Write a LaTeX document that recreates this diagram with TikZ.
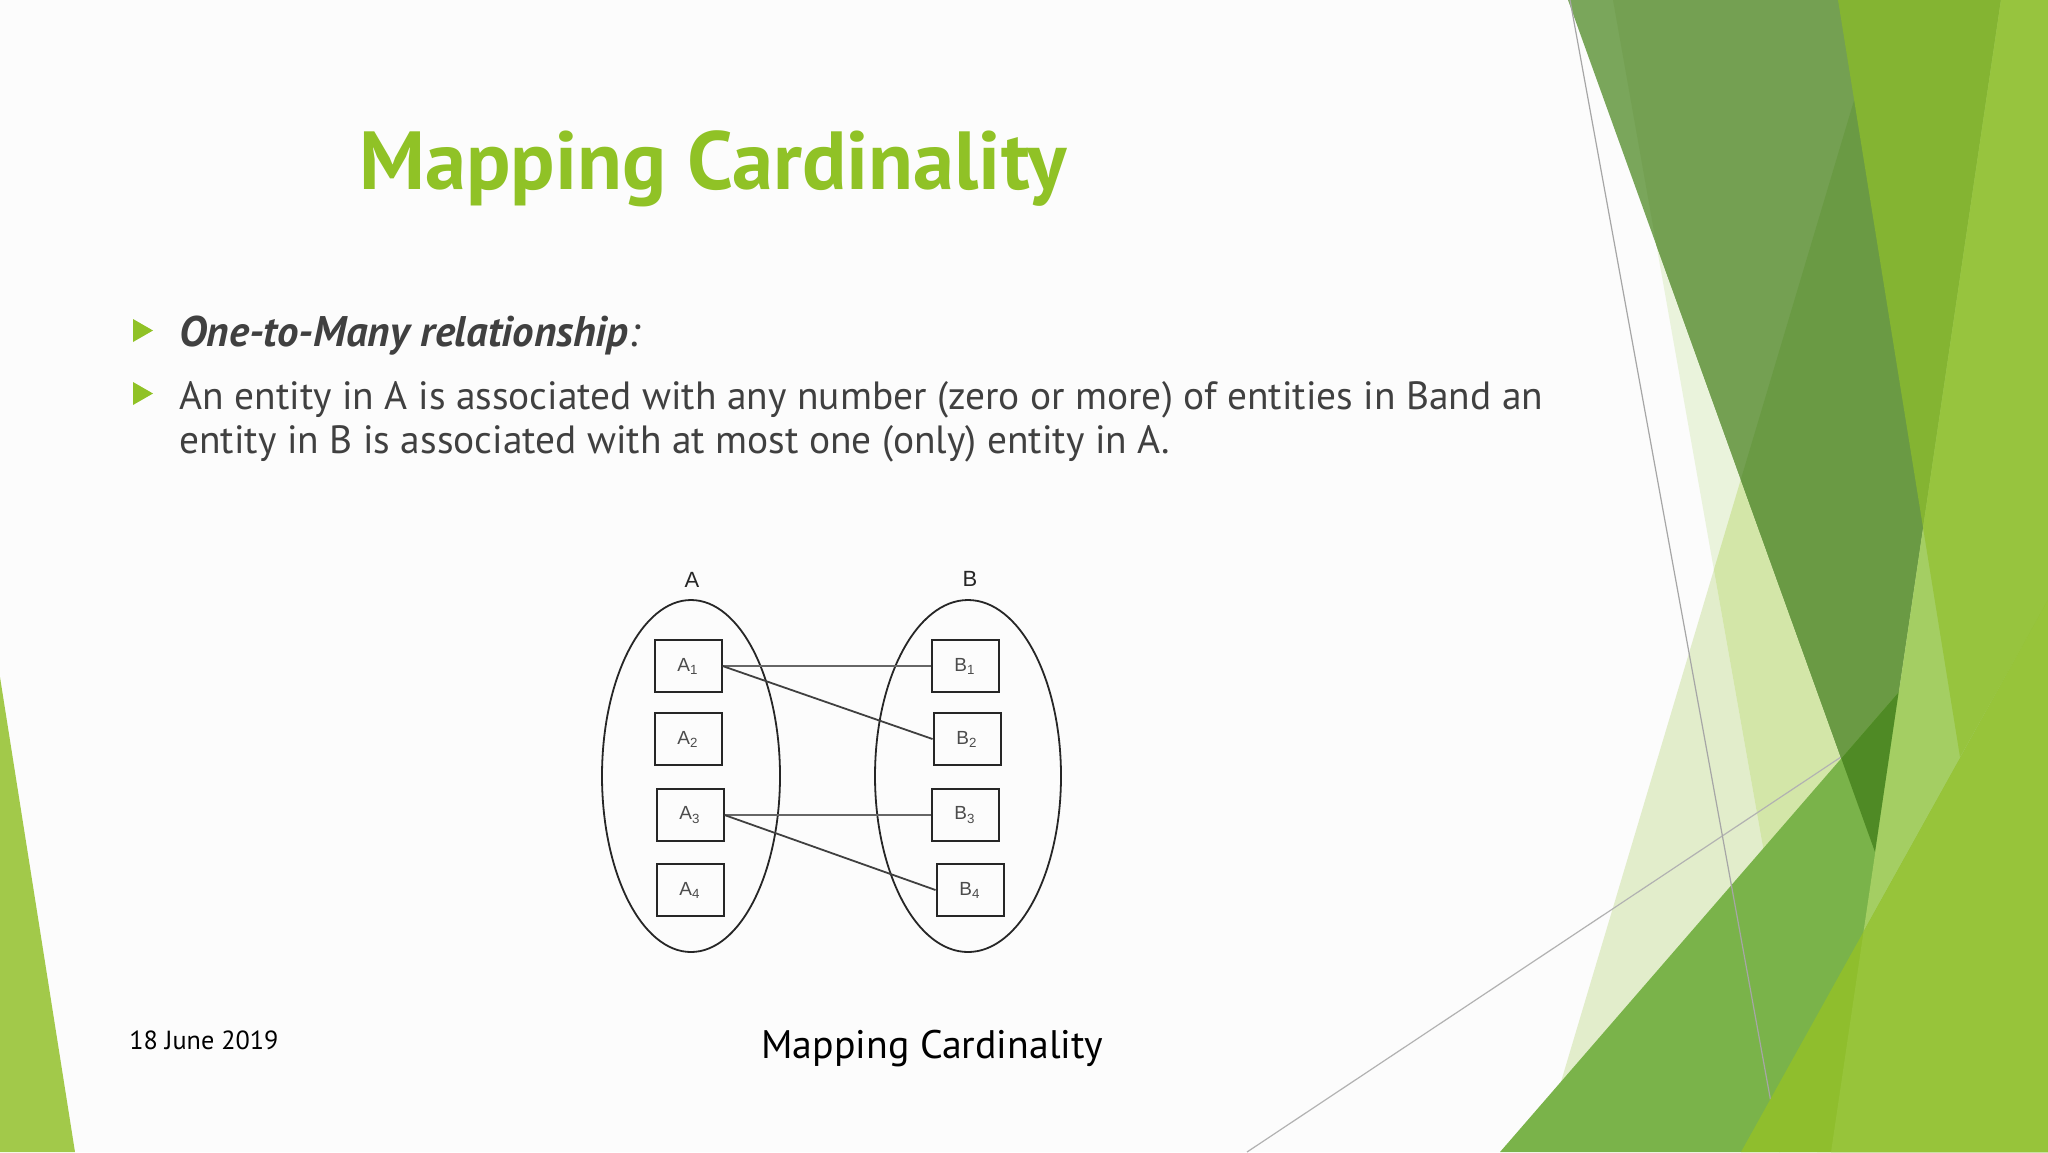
\documentclass[tikz,border=0pt]{standalone}
\usepackage{fontspec}
\setmainfont{PT Sans}
\newfontfamily\diagfont{Liberation Sans}
\usetikzlibrary{shapes.geometric}

\definecolor{facetgreen}{HTML}{90C226}
\definecolor{bodygray}{HTML}{404040}
\definecolor{paleone}{HTML}{EAF3DC}
\definecolor{paletwo}{HTML}{E2EDCB}
\definecolor{palemix}{HTML}{D3E6A8}
\definecolor{mossA}{HTML}{7AA65B}
\definecolor{mossB}{HTML}{74A052}
\definecolor{mossC}{HTML}{6A9A44}
\definecolor{leafM}{HTML}{7AB34A}
\definecolor{leafdark}{HTML}{4F8A25}
\definecolor{limeM}{HTML}{84B432}
\definecolor{limeL}{HTML}{A4CE63}
\definecolor{limeLM}{HTML}{97C43E}
\definecolor{limeB}{HTML}{8FBE2D}
\definecolor{limeBL}{HTML}{97C43A}
\definecolor{sidegreen}{HTML}{A2C94A}

\def\shpPone{(1613,0) -- (2048,0) -- (2048,1152) -- (1817,1152) -- cycle}
\def\shpPtwo{(1884,0) -- (2048,0) -- (2048,1152) -- (1540,1152) -- cycle}
\def\shpA{(1568,0) -- (2001,0) -- (1875,852) -- cycle}
\def\shpM{(1500,1152) -- (2048,520) -- (2048,1152) -- cycle}
\def\shpLm{(1838,0) -- (2048,0) -- (2048,600) -- (1960,757) -- cycle}
\def\shpLl{(2001,0) -- (2048,0) -- (2048,1152) -- (1831,1152) -- cycle}
\def\shpLb{(2048,600) -- (2048,1152) -- (1741,1152) -- cycle}

\begin{document}
\begin{tikzpicture}[x=0.5pt,y=-0.5pt,
	entbox/.style={draw=black!85,line width=1pt,minimum width=33.5pt,minimum height=26pt,inner sep=0pt,font=\diagfont\fontsize{9.5}{11}\selectfont,text=black!70},
	setell/.style={draw=black!85,line width=0.9pt,ellipse,inner sep=0pt,minimum width=89pt,minimum height=176pt},
	setlabel/.style={font=\diagfont\fontsize{11}{13}\selectfont,text=black!85,inner sep=0pt},
	link/.style={line width=0.9pt,draw=black!75},
	hair/.style={line width=0.6pt,draw=black!30}]
	\useasboundingbox (0,0) rectangle (2048,1152);
	\fill [white!99!black] (0,0) rectangle (2048,1152);

	\fill [paletwo] \shpPtwo;
	\fill [paleone] \shpPone;
	\begin{scope}
		\clip \shpPtwo;
		\fill [palemix] \shpPone;
	\end{scope}
	\draw [hair] (1247,1152) -- (1841,757);
	\fill [mossA] \shpA;
	\begin{scope}
		\clip \shpPone;
		\fill [mossB] \shpA;
	\end{scope}
	\begin{scope}
		\clip \shpPtwo;
		\fill [mossC] \shpA;
	\end{scope}
	\fill [leafM] \shpM;
	\begin{scope}
		\clip \shpA;
		\fill [leafdark] \shpM;
	\end{scope}
	\draw [hair,draw=black!35] (1570,0) -- (1780,1152);
	\fill [limeM] \shpLm;
	\fill [limeL] \shpLl;
	\begin{scope}
		\clip \shpLm;
		\fill [limeLM] \shpLl;
	\end{scope}
	\fill [limeB] \shpLb;
	\begin{scope}
		\clip \shpLl;
		\fill [limeBL] \shpLb;
	\end{scope}
	\fill [sidegreen] (0,677) -- (75,1152) -- (0,1152) -- cycle;

	\node [anchor=base west,text=facetgreen,font=\bfseries\fontsize{41.2}{49}\selectfont,inner sep=0pt] (title) at (359,189) {Mapping Cardinality};
	\fill [facetgreen] (133,319) -- (153,330.5) -- (133,342) -- cycle;
	\fill [facetgreen] (133,382) -- (153,393.5) -- (133,405) -- cycle;
	\node [anchor=base west,text=bodygray,font=\fontsize{21.4}{25}\selectfont,inner sep=0pt] (kind) at (179,346) {\textbf{\textit{One-to-Many relationship}}\textit{:}};
	\node [anchor=base west,text=bodygray,font=\fontsize{19.7}{24}\selectfont,inner sep=0pt] (rule1) at (179,409) {An entity in A is associated with any number (zero or more) of entities in Band an};
	\node [anchor=base west,text=bodygray,font=\fontsize{19.7}{24}\selectfont,inner sep=0pt] (rule2) at (179,453) {entity in B is associated with at most one (only) entity in A.};

	\node [setell] (ellA) at (691,776) {};
	\node [setell,minimum width=93pt] (ellB) at (968,776) {};
	\node [setlabel] (labA) at (692,580) {A};
	\node [setlabel] (labB) at (970,579) {B};
	\node [entbox] (a1) at (688,666) {A\textsubscript{1}};
	\node [entbox] (a2) at (688,739) {A\textsubscript{2}};
	\node [entbox] (a3) at (690,815) {A\textsubscript{3}};
	\node [entbox] (a4) at (690,890) {A\textsubscript{4}};
	\node [entbox] (b1) at (965,666) {B\textsubscript{1}};
	\node [entbox] (b2) at (967,739) {B\textsubscript{2}};
	\node [entbox] (b3) at (965,815) {B\textsubscript{3}};
	\node [entbox] (b4) at (970,890) {B\textsubscript{4}};
	\draw [link,draw=black!60] (a1.east) -- (b1.west);
	\draw [link] (a1.east) -- (b2.west);
	\draw [link,draw=black!60] (a3.east) -- (b3.west);
	\draw [link] (a3.east) -- (b4.west);

	\node [anchor=base west,font=\fontsize{13.1}{16}\selectfont,inner sep=0pt] (date) at (129,1049) {18 June 2019};
	\node [anchor=base west,font=\fontsize{19.9}{24}\selectfont,inner sep=0pt] (foot) at (761,1058) {Mapping Cardinality};
\end{tikzpicture}
\end{document}
